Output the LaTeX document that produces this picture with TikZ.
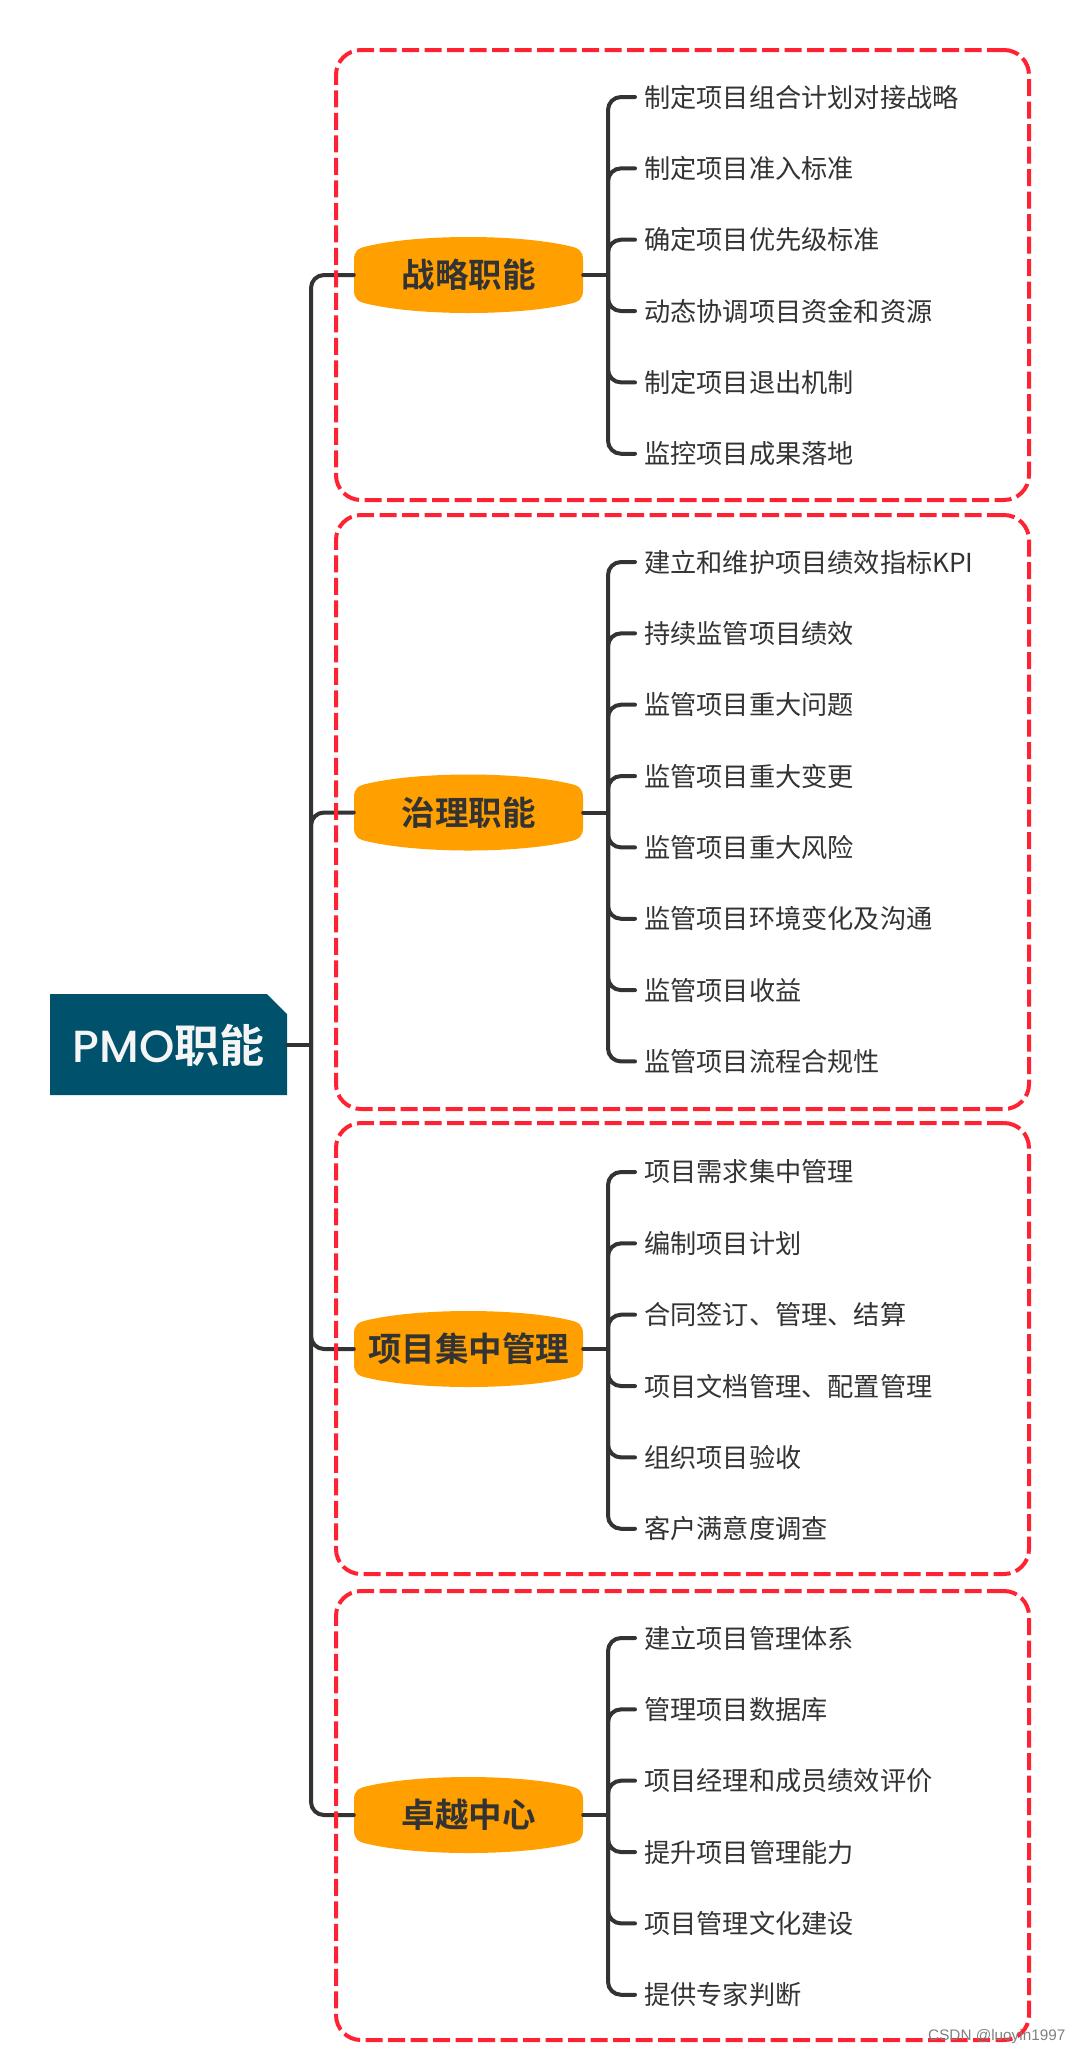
\documentclass[tikz,border=0pt]{standalone}
\usepackage{fontspec}
\setmainfont{Noto Sans CJK SC}[BoldFont={* Bold}]
\newfontfamily\latinhead{Poppins Medium}
\newfontfamily\wmfont{Liberation Sans}
\definecolor{ink}{HTML}{333333}
\definecolor{rootfill}{HTML}{00516B}
\definecolor{orangefill}{HTML}{FF9F00}
\definecolor{redline}{HTML}{FF2233}
\tikzset{
  conn/.style={draw=ink,line width=4pt,rounded corners=13pt,line cap=round},
  leaf/.style={anchor=west,inner xsep=9pt,inner ysep=0pt,text=ink,font=\fontsize{26.2}{30}\selectfont},
  branchnode/.style={minimum width=229pt,minimum height=76pt,inner sep=0pt,text=ink,font=\fontsize{33.5}{38}\selectfont\bfseries},
  redbox/.style={draw=redline,line width=4pt,rounded corners=25pt,dash pattern=on 17pt off 5.5pt,inner sep=0pt,outer sep=0pt,anchor=north west},
  rootnode/.style={minimum width=237pt,minimum height=101pt,inner sep=0pt,text=white!96!black,font=\fontsize{45}{50}\selectfont\bfseries},
  watermark/.style={text=black!50,inner sep=0pt,font=\wmfont\fontsize{15.3}{18}\selectfont}
}
% #1 name, #2 centre y, #3 label, #4 first leaf y, #5 leaves
\newcommand\mmbranch[5]{%
  \fill[orangefill] (354,{#2-15}) .. controls (354,{#2-24}) and (358,{#2-27}) .. (368,{#2-29})
     .. controls (420,{#2-41}) and (517,{#2-41}) .. (569,{#2-29})
     .. controls (579,{#2-27}) and (583,{#2-24}) .. (583,{#2-15})
     -- (583,{#2+15}) .. controls (583,{#2+24}) and (579,{#2+27}) .. (569,{#2+29})
     .. controls (517,{#2+41}) and (420,{#2+41}) .. (368,{#2+29})
     .. controls (358,{#2+27}) and (354,{#2+24}) .. (354,{#2+15}) -- cycle;
  \node[branchnode] (#1) at (468.5,#2) {#3};
  \coordinate (#1hub) at (608,#2);
  \draw[conn] (rhub) |- (#1.west);
  \draw[conn] (#1.east) -- (#1hub);
  \foreach \t [count=\i] in {#5} {
    \node[leaf] (#1l\i) at (635,{#4+71.35*(\i-1)}) {\t};
    \draw[conn] (#1hub) |- (#1l\i.west);
  }
}
\begin{document}
\begin{tikzpicture}[x=1pt,y=-1pt]
\useasboundingbox (0,0) rectangle (1080,2054);
\fill[rootfill] (50,994) -- (267,994) -- (287,1014) -- (287,1095) -- (50,1095) -- cycle;
\node[rootnode] (root) at (168.5,1045) {{\latinhead\mdseries PMO}职能};
\coordinate (rhub) at (311,1045);
\draw[conn] (root.east) -- (rhub);
\mmbranch{a}{275}{战略职能}{97}{制定项目组合计划对接战略,制定项目准入标准,确定项目优先级标准,动态协调项目资金和资源,制定项目退出机制,监控项目成果落地}
\mmbranch{b}{812.5}{治理职能}{562}{建立和维护项目绩效指标KPI,持续监管项目绩效,监管项目重大问题,监管项目重大变更,监管项目重大风险,监管项目环境变化及沟通,监管项目收益,监管项目流程合规性}
\mmbranch{c}{1349}{项目集中管理}{1172}{项目需求集中管理,编制项目计划,合同签订、管理、结算,项目文档管理、配置管理,组织项目验收,客户满意度调查}
\mmbranch{d}{1815}{卓越中心}{1638}{建立项目管理体系,管理项目数据库,项目经理和成员绩效评价,提升项目管理能力,项目管理文化建设,提供专家判断}
\node[redbox,minimum width=693pt,minimum height=450pt] (boxa) at (336,50) {};
\node[redbox,minimum width=693pt,minimum height=594pt] (boxb) at (336,515) {};
\node[redbox,minimum width=693pt,minimum height=451pt] (boxc) at (336,1123) {};
\node[redbox,minimum width=693pt,minimum height=449pt] (boxd) at (336,1591) {};
\node[watermark,anchor=west] (wm) at (928,2037) {CSDN @luoyin1997};
\end{tikzpicture}
\end{document}
